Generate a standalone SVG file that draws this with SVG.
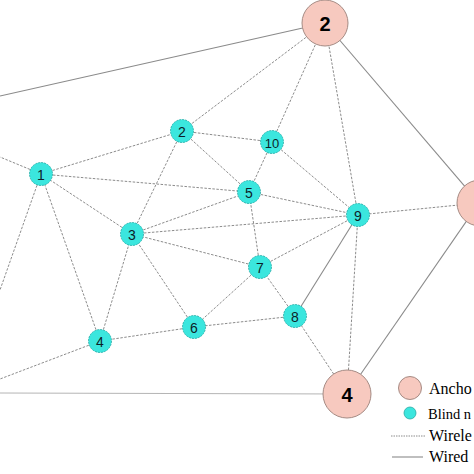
<svg xmlns="http://www.w3.org/2000/svg" width="474" height="474" viewBox="0 0 474 474">
<style>
.wl{stroke:#8c8c8c;stroke-width:1;stroke-dasharray:2.5 1.5;fill:none}
.wd{stroke:#8a8a8a;stroke-width:1.1;fill:none}
.anc{fill:#f7c9bf;stroke:#a58b84;stroke-width:1}
.bl{fill:#3be6de;stroke:#2aaaa5;stroke-width:0.8;stroke-dasharray:2 1}
.at{font-family:"Liberation Sans",Arial,sans-serif;font-weight:bold;font-size:20px;fill:#000;text-anchor:middle;dominant-baseline:central}
.bt{font-family:"Liberation Sans",Arial,sans-serif;font-size:14px;fill:#0c1e28;text-anchor:middle;dominant-baseline:central}
.lg{font-family:"Liberation Serif","Times New Roman",serif;font-size:16px;fill:#000}
</style>
<rect width="474" height="474" fill="#fff"/>
<g id="connectors">
<line class="wd" x1="0" y1="96" x2="325" y2="23"/>
<line class="wl" x1="325" y1="23" x2="182" y2="131"/>
<line class="wl" x1="325" y1="23" x2="272" y2="142"/>
<line class="wl" x1="325" y1="23" x2="358" y2="215"/>
<line class="wd" x1="325" y1="23" x2="479" y2="203"/>
<line class="wl" x1="479" y1="203" x2="358" y2="215"/>
<line class="wd" x1="479" y1="203" x2="347" y2="394"/>
<line class="wl" x1="347" y1="394" x2="295" y2="316"/>
<line class="wl" x1="347" y1="394" x2="358" y2="215"/>
<line class="wd" x1="0" y1="393" x2="347" y2="394" style="stroke:#b5b5b5"/>
<line class="wd" x1="295" y1="316" x2="358" y2="215"/>
<line class="wl" x1="295" y1="316" x2="260" y2="267"/>
<line class="wl" x1="295" y1="316" x2="194" y2="327"/>
<line class="wl" x1="260" y1="267" x2="249" y2="192"/>
<line class="wl" x1="260" y1="267" x2="358" y2="215"/>
<line class="wl" x1="260" y1="267" x2="132" y2="234"/>
<line class="wl" x1="260" y1="267" x2="194" y2="327"/>
<line class="wl" x1="194" y1="327" x2="132" y2="234"/>
<line class="wl" x1="194" y1="327" x2="100" y2="341"/>
<line class="wl" x1="100" y1="341" x2="132" y2="234"/>
<line class="wl" x1="100" y1="341" x2="41" y2="174"/>
<line class="wl" x1="100" y1="341" x2="0" y2="379"/>
<line class="wl" x1="132" y1="234" x2="41" y2="174"/>
<line class="wl" x1="132" y1="234" x2="182" y2="131"/>
<line class="wl" x1="132" y1="234" x2="249" y2="192"/>
<line class="wl" x1="132" y1="234" x2="358" y2="215"/>
<line class="wl" x1="41" y1="174" x2="182" y2="131"/>
<line class="wl" x1="41" y1="174" x2="249" y2="192"/>
<line class="wl" x1="41" y1="174" x2="0" y2="157"/>
<line class="wl" x1="41" y1="174" x2="0" y2="290"/>
<line class="wl" x1="182" y1="131" x2="272" y2="142"/>
<line class="wl" x1="182" y1="131" x2="249" y2="192"/>
<line class="wl" x1="272" y1="142" x2="249" y2="192"/>
<line class="wl" x1="272" y1="142" x2="358" y2="215"/>
<line class="wl" x1="249" y1="192" x2="358" y2="215"/>
</g>
<g id="anchor2"><circle class="anc" cx="325" cy="23" r="23"/><text class="at" x="325" y="24">2</text></g>
<g id="anchor3"><circle class="anc" cx="480" cy="203" r="23"/></g>
<g id="anchor4"><circle class="anc" cx="347" cy="394" r="24"/><text class="at" x="347" y="395">4</text></g>
<g id="node1"><circle class="bl" cx="41" cy="174" r="11.5"/><text class="bt" x="41" y="175">1</text></g>
<g id="node2"><circle class="bl" cx="182" cy="131" r="11.5"/><text class="bt" x="182" y="132">2</text></g>
<g id="node3"><circle class="bl" cx="132" cy="234" r="11.5"/><text class="bt" x="132" y="235">3</text></g>
<g id="node4"><circle class="bl" cx="100" cy="341" r="11.5"/><text class="bt" x="100" y="342">4</text></g>
<g id="node5"><circle class="bl" cx="249" cy="192" r="11.5"/><text class="bt" x="249" y="193">5</text></g>
<g id="node6"><circle class="bl" cx="194" cy="327" r="11.5"/><text class="bt" x="194" y="328">6</text></g>
<g id="node7"><circle class="bl" cx="260" cy="267" r="11.5"/><text class="bt" x="260" y="268">7</text></g>
<g id="node8"><circle class="bl" cx="295" cy="316" r="11.5"/><text class="bt" x="295" y="317">8</text></g>
<g id="node9"><circle class="bl" cx="358" cy="215" r="11.5"/><text class="bt" x="358" y="216">9</text></g>
<g id="node10"><circle class="bl" cx="272" cy="142" r="11.5"/><text class="bt" x="272" y="143" style="font-size:13px">10</text></g>
<g id="legend">
<circle class="anc" cx="410" cy="388" r="11.5"/>
<circle cx="410" cy="413" r="6" fill="#3be6de" stroke="#2aaaa5" stroke-width="0.8"/>
<line class="wl" x1="391" y1="436" x2="425" y2="436" style="stroke-dasharray:1.5 1"/>
<line class="wd" x1="392" y1="457" x2="423" y2="457"/>
<text class="lg" x="429" y="394">Ancho</text>
<text class="lg" x="428" y="419" style="font-size:14.5px">Blind n</text>
<text class="lg" x="429" y="441">Wirele</text>
<text class="lg" x="429" y="462">Wired</text>
</g>
</svg>
